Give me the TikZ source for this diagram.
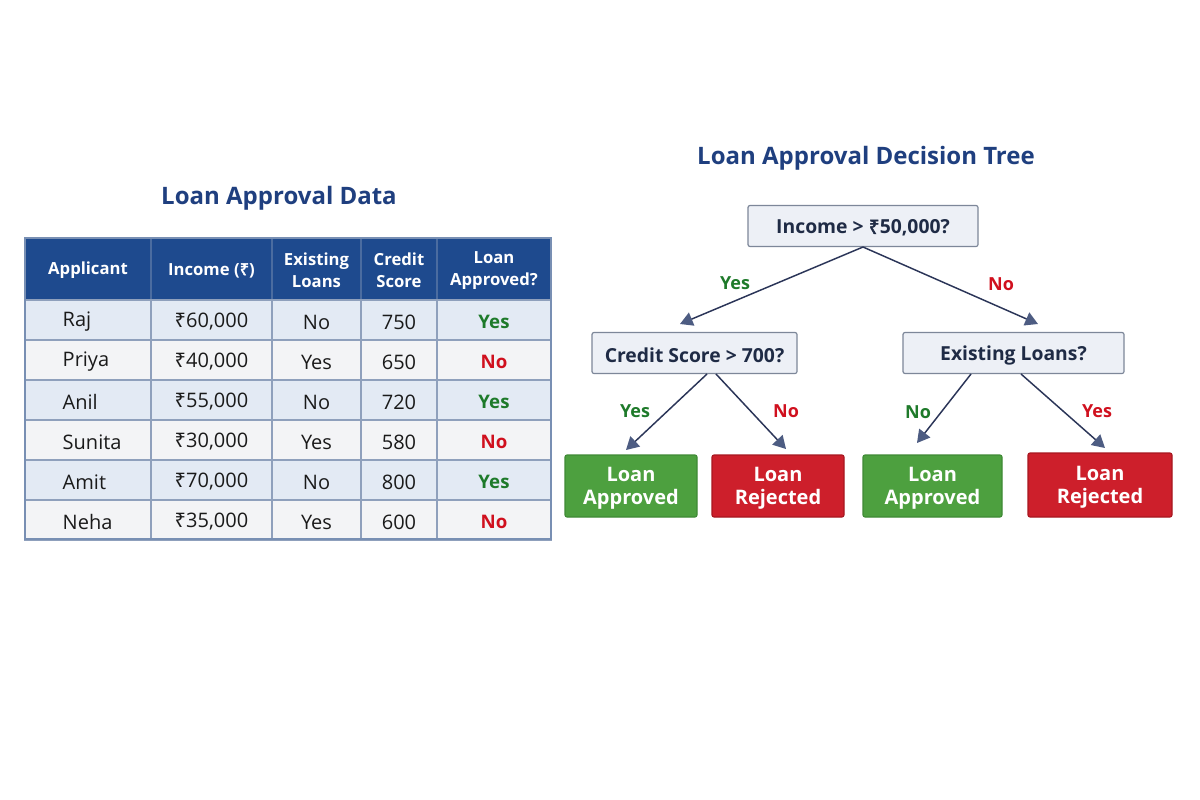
\documentclass[tikz,border=0pt]{standalone}
\usepackage{fontspec}
\setmainfont{Open Sans}
\newfontfamily\rupfont{Noto Sans}
\newfontfamily\rupbfont{Noto Sans}[FakeBold=2.5]
\newcommand\rsr{{\rupfont ₹}}
\newcommand\rsb{{\rupbfont ₹}}
\usetikzlibrary{arrows.meta}
\definecolor{headblue}{HTML}{1E4A8E}
\definecolor{titleblue}{HTML}{1F3F7F}
\definecolor{rowblue}{HTML}{E3EAF4}
\definecolor{rowgray}{HTML}{F3F4F6}
\definecolor{gridc}{HTML}{8FA0BC}
\definecolor{yesgreen}{HTML}{1E7A2A}
\definecolor{nored}{HTML}{D0101E}
\definecolor{qfill}{HTML}{EDF0F6}
\definecolor{qborder}{HTML}{7D8799}
\definecolor{qtext}{HTML}{1F2B45}
\definecolor{leafgreen}{HTML}{4DA03F}
\definecolor{leafgreenb}{HTML}{3F8A35}
\definecolor{leafred}{HTML}{CD1F2B}
\definecolor{leafredb}{HTML}{A8161F}
\definecolor{linec}{HTML}{2B3558}
\definecolor{tipc}{HTML}{4D5C82}
\definecolor{bodytext}{HTML}{1A1A1A}
\tikzset{
  title/.style={font=\bfseries\fontsize{18}{22}\selectfont, text=titleblue},
  cell/.style={draw=gridc, line width=0.8pt, inner sep=0pt},
  hcell/.style={cell, fill=headblue, draw=headblue!60!gridc},
  htext/.style={font=\bfseries\fontsize{12.5}{16.5}\selectfont, text=white, align=center, yshift=-1.2pt},
  btext/.style={font=\fontsize{15}{18}\selectfont, text=bodytext, yshift=-1.5pt},
  yest/.style={font=\bfseries\fontsize{14}{17}\selectfont, text=yesgreen, yshift=-1.5pt},
  not/.style={font=\bfseries\fontsize{14}{17}\selectfont, text=nored, yshift=-1.5pt},
  qbox/.style={draw=qborder, fill=qfill, line width=0.9pt, rounded corners=1.5pt, inner sep=0pt},
  qtxt/.style={font=\bfseries\fontsize{14.5}{17}\selectfont, text=qtext, yshift=-1.5pt},
  leafg/.style={draw=leafgreenb, fill=leafgreen, line width=0.8pt, rounded corners=1.5pt, inner sep=0pt},
  leafr/.style={draw=leafredb, fill=leafred, line width=0.8pt, rounded corners=1.5pt, inner sep=0pt},
  ltxt/.style={font=\bfseries\fontsize{15}{17.5}\selectfont, text=white, align=center, yshift=-1.5pt},
  conn/.style={draw=linec, line width=1.1pt, -{Triangle[length=9.5pt,width=10.5pt,fill=tipc,color=tipc]}},
  ylab/.style={font=\bfseries\fontsize{13.5}{16}\selectfont, text=yesgreen},
  nlab/.style={font=\bfseries\fontsize{13.5}{16}\selectfont, text=nored},
}
\begin{document}
\begin{tikzpicture}[x=0.75pt,y=-0.75pt]
\useasboundingbox[fill=white] (0,0) rectangle (1200,800);
% ---------- table ----------
\node[title] (ttitle) at (279,198) {Loan Approval Data};
% header cells
\node[hcell, minimum width=94.5pt, minimum height=46.5pt] (h1) at (88,269) {};
\node[hcell, minimum width=90.75pt, minimum height=46.5pt] (h2) at (211.5,269) {};
\node[hcell, minimum width=66.75pt, minimum height=46.5pt] (h3) at (316.5,269) {};
\node[hcell, minimum width=57pt, minimum height=46.5pt] (h4) at (399,269) {};
\node[hcell, minimum width=85.5pt, minimum height=46.5pt] (h5) at (494,269) {};
\node[htext] (ht1) at (h1) {Applicant};
\node[htext] (ht2) at (h2) {Income (\rsb)};
\node[htext] (ht3) at (h3) {Existing\\Loans};
\node[htext] (ht4) at (h4) {Credit\\Score};
\node[htext] (ht5) at (h5) {Loan\\Approved?};
% body rows
\foreach \r/\y/\fc/\nm/\inc/\ex/\cs/\ap in {
  1/320/rowblue/Raj/{60,000}/No/750/Y,
  2/360/rowgray/Priya/{40,000}/Yes/650/N,
  3/400/rowblue/Anil/{55,000}/No/720/Y,
  4/440/rowgray/Sunita/{30,000}/Yes/580/N,
  5/480/rowblue/Amit/{70,000}/No/800/Y,
  6/520/rowgray/Neha/{35,000}/Yes/600/N}{
  \node[cell, fill=\fc, minimum width=94.5pt, minimum height=30pt] (r\r c1) at (88,\y) {};
  \node[cell, fill=\fc, minimum width=90.75pt, minimum height=30pt] (r\r c2) at (211.5,\y) {};
  \node[cell, fill=\fc, minimum width=66.75pt, minimum height=30pt] (r\r c3) at (316.5,\y) {};
  \node[cell, fill=\fc, minimum width=57pt, minimum height=30pt] (r\r c4) at (399,\y) {};
  \node[cell, fill=\fc, minimum width=85.5pt, minimum height=30pt] (r\r c5) at (494,\y) {};
  \node[btext, anchor=west] (t\r c1) at (58,\y) {\nm};
  \node[btext] (t\r c2) at (r\r c2) {\rsr\inc};
  \node[btext] (t\r c3) at (r\r c3) {\ex};
  \node[btext] (t\r c4) at (r\r c4) {\cs};
  \if\ap Y
    \node[yest] (t\r c5) at (r\r c5) {Yes};
  \else
    \node[not] (t\r c5) at (r\r c5) {No};
  \fi
}
\draw[gridc!80!headblue, line width=0.9pt] (25,238) rectangle (551,539);
% ---------- tree ----------
\node[title] (dtitle) at (866,158) {Loan Approval Decision Tree};
\node[qbox, minimum width=172.5pt, minimum height=30.75pt] (root) at (863,226) {};
\node[qbox, minimum width=153.75pt, minimum height=30.75pt] (cs) at (694.5,353) {};
\node[qbox, minimum width=165.75pt, minimum height=30.75pt] (el) at (1013.5,353) {};
\node[qtxt] (roott) at (root) {Income > \rsb50,000?};
\node[qtxt] (cst) at (cs) {Credit Score > 700?};
\node[qtxt] (elt) at (el) {Existing Loans?};
\node[leafg, minimum width=99pt, minimum height=46.5pt] (a1) at (631,486) {};
\node[leafr, minimum width=99pt, minimum height=46.5pt] (j1) at (778,486) {};
\node[leafg, minimum width=104.25pt, minimum height=46.5pt] (a2) at (932.5,486) {};
\node[leafr, minimum width=108pt, minimum height=48pt] (j2) at (1100,485) {};
\node[ltxt] (a1t) at (a1) {Loan\\Approved};
\node[ltxt] (j1t) at (j1) {Loan\\Rejected};
\node[ltxt] (a2t) at (a2) {Loan\\Approved};
\node[ltxt] (j2t) at (j2) {Loan\\Rejected};
\coordinate (rootb) at (863,247);
\coordinate (e1) at (680,324);
\coordinate (e2) at (1038,324);
\draw[conn] (rootb) -- (e1);
\draw[conn] (rootb) -- (e2);
\node[ylab] (l1) at (735,283) {Yes};
\node[nlab] (l2) at (1001,284) {No};
\coordinate (csb1) at (707,374);
\coordinate (csb2) at (716,374);
\coordinate (e3) at (626,450);
\coordinate (e4) at (786,449);
\draw[conn] (csb1) -- (e3);
\draw[conn] (csb2) -- (e4);
\node[ylab] (l3) at (635,411) {Yes};
\node[nlab] (l4) at (786,411) {No};
\coordinate (elb1) at (971,374);
\coordinate (elb2) at (1021,374);
\coordinate (e5) at (917,443);
\coordinate (e6) at (1105,448);
\draw[conn] (elb1) -- (e5);
\draw[conn] (elb2) -- (e6);
\node[ylab] (l5) at (918,412) {No};
\node[nlab] (l6) at (1097,411) {Yes};
\end{tikzpicture}
\end{document}
